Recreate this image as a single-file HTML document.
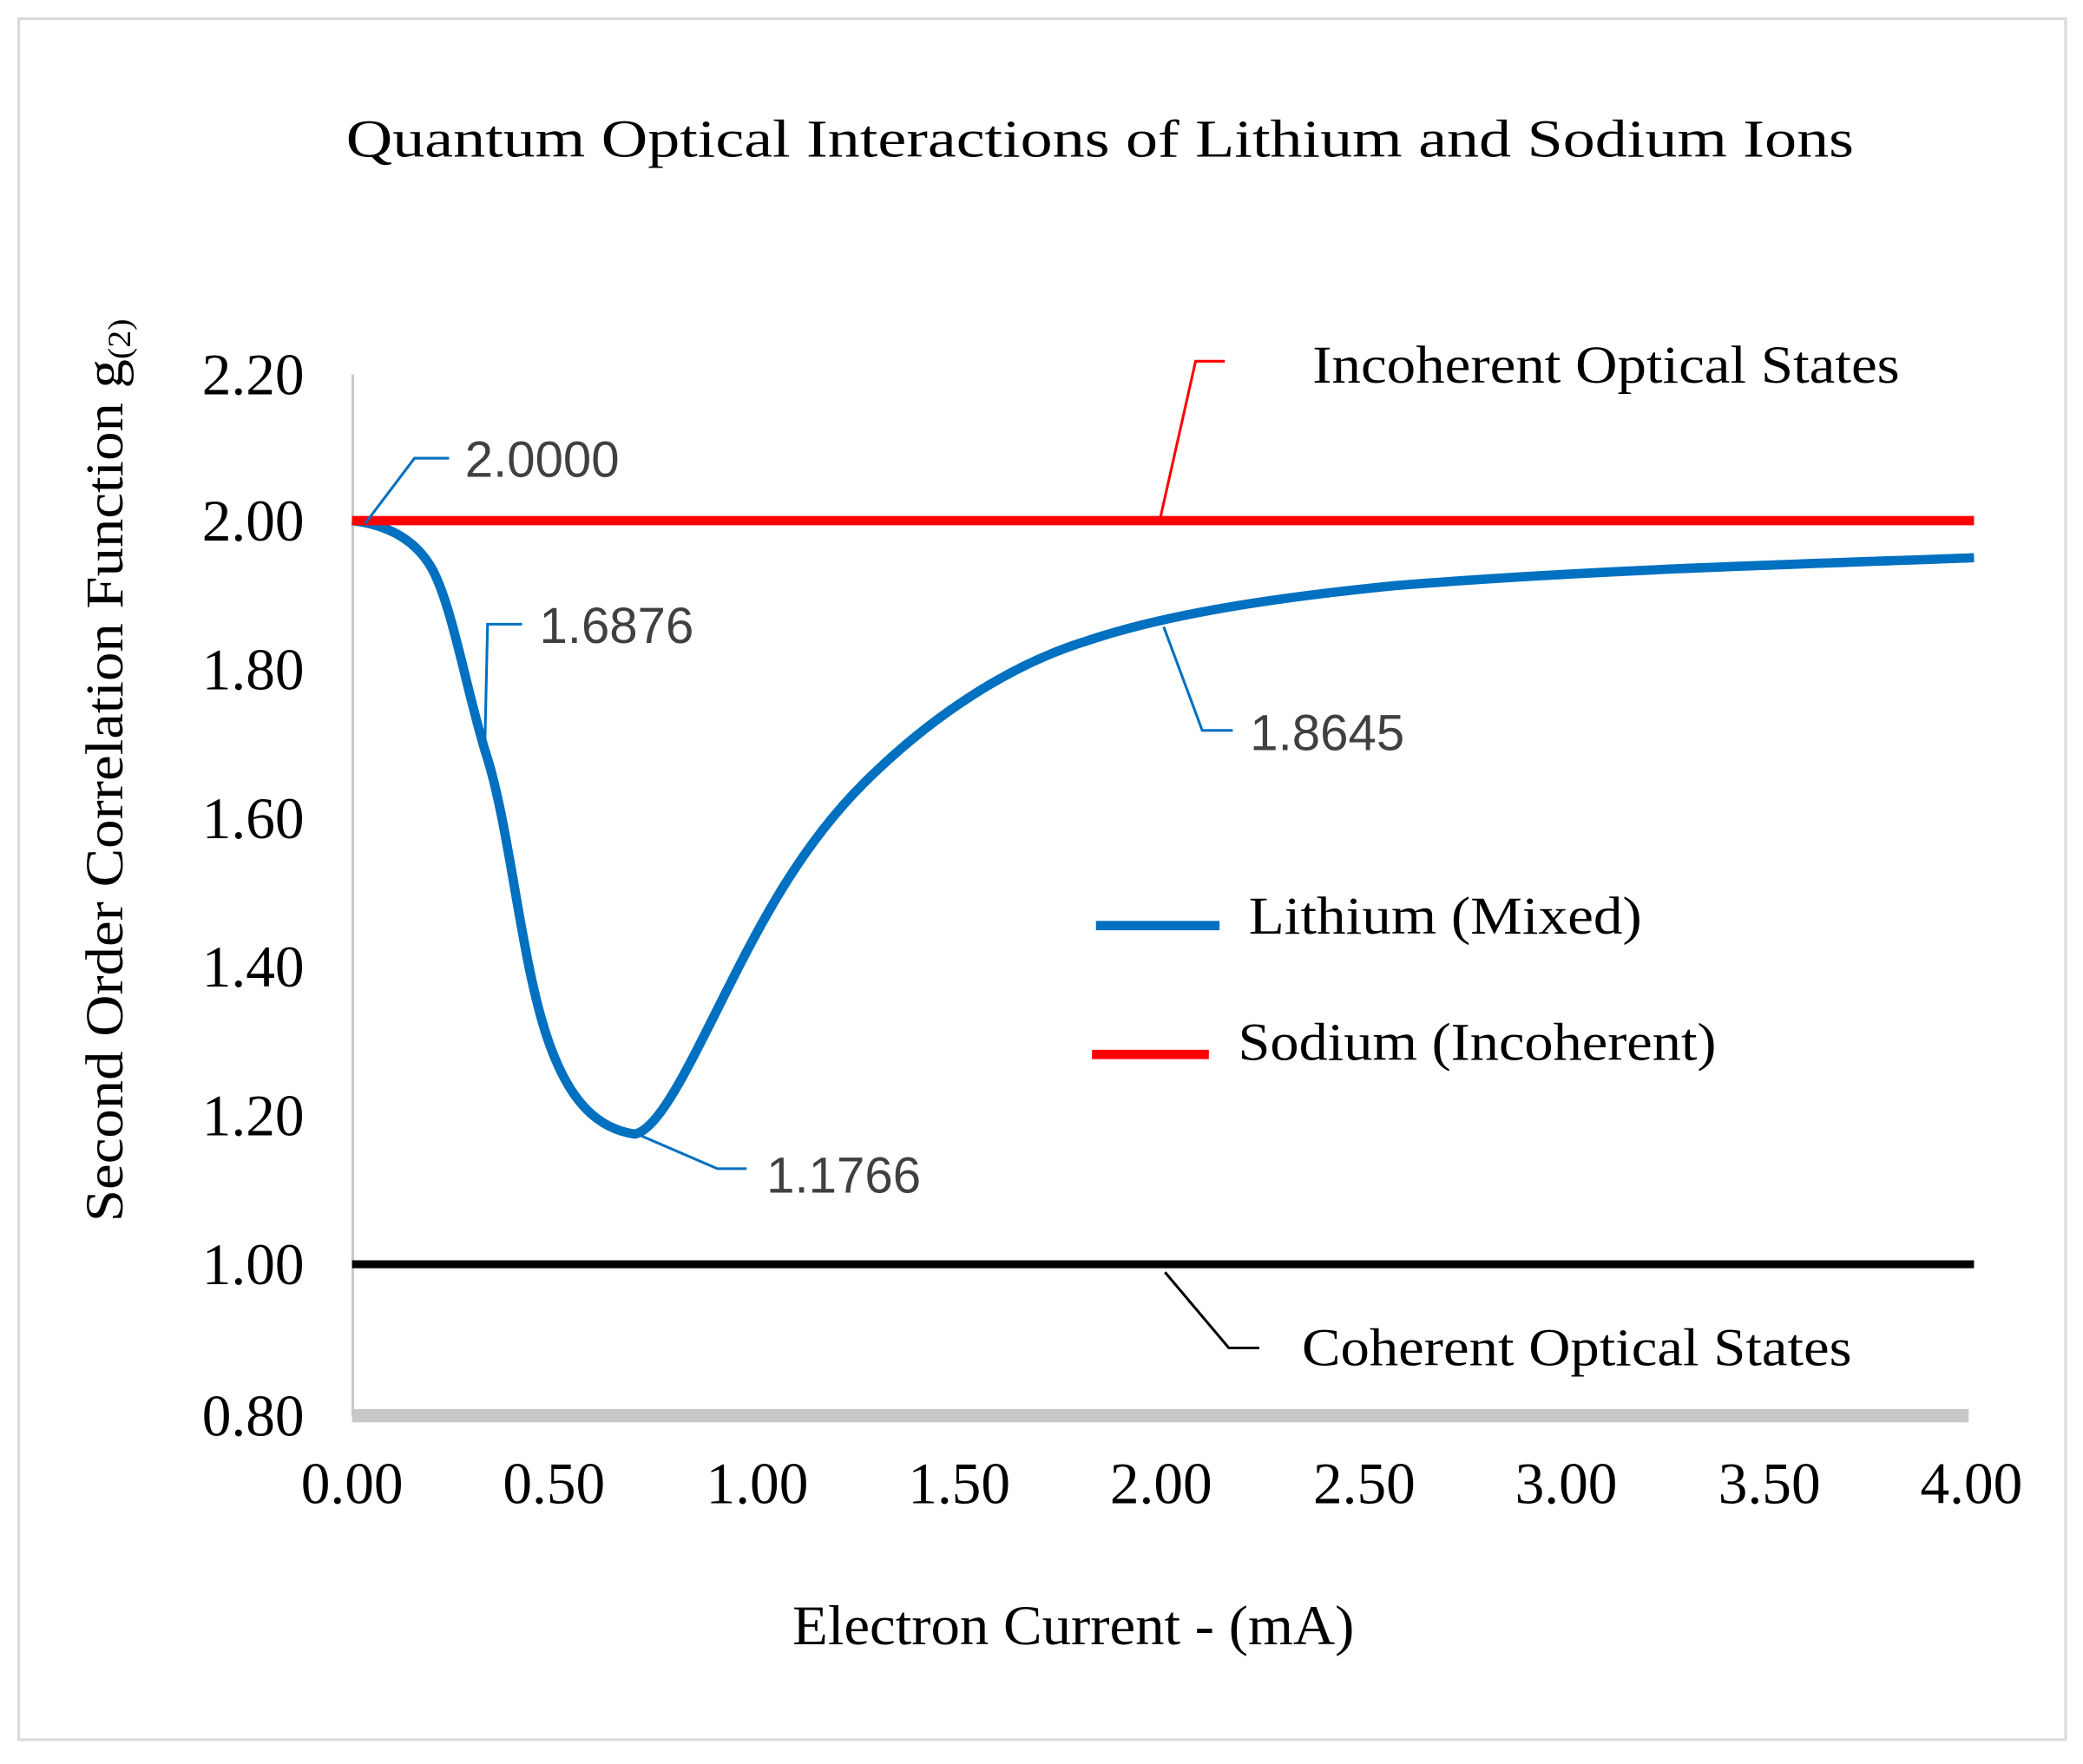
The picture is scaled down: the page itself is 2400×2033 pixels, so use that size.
<!DOCTYPE html>
<html><head><meta charset="utf-8"><style>html,body{margin:0;padding:0;background:#fff}svg{display:block}</style></head>
<body>
<svg width="2400" height="2033" viewBox="0 0 1568 1328.3" xmlns="http://www.w3.org/2000/svg">
<rect x="0" y="0" width="1568" height="1328.3" fill="#fff"/>
<rect x="14" y="14" width="1541" height="1296" fill="none" stroke="#d9d9d9" stroke-width="2"/>
<g font-family="Liberation Serif, serif" fill="#000">
<text x="828" y="118" font-size="40" text-anchor="middle" textLength="1135" lengthAdjust="spacingAndGlyphs">Quantum Optical Interactions of Lithium and Sodium Ions</text>
<g font-size="44" text-anchor="end">
<text x="229" y="297">2.20</text>
<text x="229" y="407">2.00</text>
<text x="229" y="519">1.80</text>
<text x="229" y="631">1.60</text>
<text x="229" y="743">1.40</text>
<text x="229" y="855">1.20</text>
<text x="229" y="967">1.00</text>
<text x="229" y="1081">0.80</text>
</g>
<g font-size="44" text-anchor="middle">
<text x="265" y="1132">0.00</text>
<text x="417" y="1132">0.50</text>
<text x="570" y="1132">1.00</text>
<text x="722" y="1132">1.50</text>
<text x="874" y="1132">2.00</text>
<text x="1027" y="1132">2.50</text>
<text x="1179" y="1132">3.00</text>
<text x="1332" y="1132">3.50</text>
<text x="1484" y="1132">4.00</text>
</g>
<text x="808" y="1238" font-size="42" text-anchor="middle" textLength="423" lengthAdjust="spacingAndGlyphs">Electron Current - (mA)</text>
<text transform="translate(92,920) rotate(-90)" font-size="40" textLength="680" lengthAdjust="spacingAndGlyphs">Second Order Correlation Function g<tspan font-size="24" dy="6">(2)</tspan></text>
<text x="988" y="288" font-size="40" textLength="442" lengthAdjust="spacingAndGlyphs">Incoherent Optical States</text>
<text x="980" y="1028" font-size="40" textLength="414" lengthAdjust="spacingAndGlyphs">Coherent Optical States</text>
<text x="940" y="703" font-size="40" textLength="296" lengthAdjust="spacingAndGlyphs">Lithium (Mixed)</text>
<text x="932" y="798" font-size="40" textLength="360" lengthAdjust="spacingAndGlyphs">Sodium (Incoherent)</text>
</g>
<line x1="265.5" y1="282" x2="265.5" y2="1066" stroke="#c8c8c8" stroke-width="2"/>
<line x1="265" y1="1066" x2="1482" y2="1066" stroke="#c8c8c8" stroke-width="10"/>
<line x1="265" y1="952" x2="1486" y2="952" stroke="#000" stroke-width="6"/>
<path d="M265,392 C290,395 312,405 325,428 C340,455 350,515 365,565 C385,625 392,730 415,790 C430,830 450,850 478,854 C495,850 515,810 540,760 C570,700 600,640 650,590 C700,540 760,500 820,482 C880,462 960,450 1050,441 C1200,429 1350,425 1486,420" fill="none" stroke="#0070c0" stroke-width="7"/>
<line x1="265" y1="392" x2="1486" y2="392" stroke="#ff0000" stroke-width="7"/>
<g fill="none" stroke-width="2">
<polyline points="275,394 312,345 338,345" stroke="#0070c0"/>
<polyline points="365,560 367,470 393,470" stroke="#0070c0"/>
<polyline points="482,855 540,880 562,880" stroke="#0070c0"/>
<polyline points="876,472 905,550 928,550" stroke="#0070c0"/>
<polyline points="873,392 900,272 922,272" stroke="#ff0000"/>
<polyline points="877,958 925,1015 948,1015" stroke="#000"/>
</g>
<g font-family="Liberation Sans, sans-serif" font-size="38" fill="#404040">
<text x="350" y="359">2.0000</text>
<text x="406" y="484">1.6876</text>
<text x="577" y="898">1.1766</text>
<text x="941" y="565">1.8645</text>
</g>
<line x1="825" y1="697" x2="918" y2="697" stroke="#0070c0" stroke-width="7"/>
<line x1="822" y1="794" x2="910" y2="794" stroke="#ff0000" stroke-width="7"/>
</svg>
</body></html>
